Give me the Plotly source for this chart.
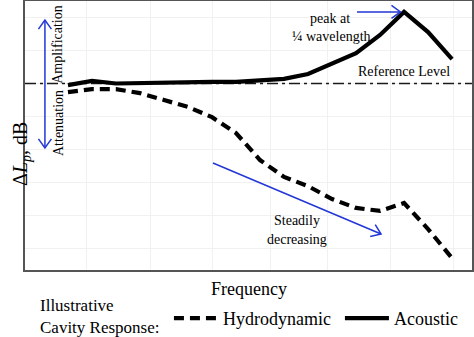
import plotly.graph_objects as go

# Frequency steps (arbitrary units) and level change relative to the reference, dB (arbitrary units)
freq = list(range(1, 18))
acoustic = [-0.05, 0.08, 0.00, 0.02, 0.03, 0.03, 0.05, 0.05, 0.08, 0.14, 0.29, 0.59,
            0.92, 1.47, 2.17, 1.56, 0.74]
hydrodynamic = [-0.26, -0.17, -0.17, -0.29, -0.50, -0.71, -1.02, -1.50, -2.32, -2.83,
                -3.11, -3.50, -3.77, -3.86, -3.62, -4.41, -5.29]
reference_level = 0.0

x_grid = [1.79, 4.42, 7.04, 9.42, 11.83, 14.42, 17.04]
y_grid = [-5, -4, -3, -2, -1, 0, 1, 2]

X_RANGE = [-0.79, 17.83]
Y_RANGE = [-5.65, 2.5]

# plot area size in px, used to draw arrow heads with a fixed pixel size
PLOT_W, PLOT_H = 447, 269
SX = PLOT_W / (X_RANGE[1] - X_RANGE[0])
SY = PLOT_H / (Y_RANGE[1] - Y_RANGE[0])

BLUE = "#2336d6"
FONT = "Liberation Serif"

fig = go.Figure()

fig.add_trace(go.Scatter(
    x=[X_RANGE[0], X_RANGE[1]], y=[reference_level, reference_level], mode="lines",
    line=dict(color="#1a1a1a", width=1.4, dash="11px,4px,3px,4px"),
    showlegend=False, hoverinfo="skip"))

fig.add_trace(go.Scatter(
    x=freq, y=hydrodynamic, mode="lines", name="Hydrodynamic",
    line=dict(color="black", width=4.2, dash="10px,6px")))

fig.add_trace(go.Scatter(
    x=freq, y=acoustic, mode="lines", name="Acoustic",
    line=dict(color="black", width=4.2)))


def arrow(x0, y0, x1, y1, both=False, head=9, half=6.5):
    """Line from (x0,y0) to (x1,y1) with open chevron head(s)."""
    shapes = [dict(type="line", xref="x", yref="y", x0=x0, y0=y0, x1=x1, y1=y1,
                   line=dict(color=BLUE, width=1.5))]
    ends = [(x0, y0, x1, y1)]
    if both:
        ends.append((x1, y1, x0, y0))
    for ax, ay, bx, by in ends:
        dxp = (bx - ax) * SX
        dyp = (by - ay) * SY
        n = (dxp ** 2 + dyp ** 2) ** 0.5
        ux, uy = dxp / n, dyp / n
        px, py = -uy, ux
        pts = []
        for s in (1, -1):
            hx = -ux * head + s * px * half
            hy = -uy * head + s * py * half
            pts.append((bx + hx / SX, by + hy / SY))
        path = (f"M{pts[0][0]},{pts[0][1]} L{bx},{by} L{pts[1][0]},{pts[1][1]}")
        shapes.append(dict(type="path", xref="x", yref="y", path=path,
                           line=dict(color=BLUE, width=1.5)))
    return shapes


shapes = []
shapes += arrow(0.04, 1.92, 0.04, -1.95, both=True)
shapes += arrow(13.04, 2.17, 14.85, 2.17)
shapes += arrow(7.04, -2.41, 14.04, -4.56)

annotations = [
    dict(x=0.58, y=1.2, text="Amplification", textangle=-90, font=dict(size=14)),
    dict(x=0.58, y=-1.2, text="Attenuation", textangle=-90, font=dict(size=14)),
    dict(x=11.92, y=1.98, text="peak at", font=dict(size=14)),
    dict(x=11.96, y=1.43, text="¼ wavelength", font=dict(size=14)),
    dict(x=15.0, y=0.35, text="Reference Level", font=dict(size=14)),
    dict(x=10.54, y=-4.14, text="Steadily", font=dict(size=14)),
    dict(x=10.54, y=-4.74, text="decreasing", font=dict(size=14)),
    dict(xref="paper", yref="paper", x=-0.04, y=0.43, textangle=-90,
         text="Δ<i>L</i><sub><i>p</i></sub>, dB", font=dict(size=20)),
    dict(xref="paper", yref="paper", x=0.5, y=-0.07, yanchor="middle",
         text="Frequency", font=dict(size=18)),
    dict(xref="paper", yref="paper", x=0.03, y=-0.172, xanchor="left",
         yanchor="middle", align="left",
         text="Illustrative<br>Cavity Response:", font=dict(size=17)),
]
for a in annotations:
    a.setdefault("xref", "x")
    a.setdefault("yref", "y")
    a["showarrow"] = False
    a["font"]["family"] = FONT
    a["font"]["color"] = "black"

fig.update_layout(
    width=474, height=337,
    margin=dict(l=25, r=2, t=1, b=67, autoexpand=False),
    paper_bgcolor="white", plot_bgcolor="white",
    font=dict(family=FONT, color="black", size=18),
    shapes=shapes, annotations=annotations,
    showlegend=True,
    legend=dict(orientation="h", x=0.322, y=-0.18, xanchor="left", yanchor="middle",
                font=dict(size=18), itemwidth=44, entrywidth=112,
                entrywidthmode="pixels", bgcolor="rgba(0,0,0,0)"),
    xaxis=dict(range=X_RANGE, tickvals=x_grid, showticklabels=False, ticks="",
               showgrid=True, gridcolor="#f1f1f1", gridwidth=1, zeroline=False,
               showline=True, mirror=True, linecolor="#555555", linewidth=2),
    yaxis=dict(range=Y_RANGE, tickvals=y_grid, showticklabels=False, ticks="",
               showgrid=True, gridcolor="#f1f1f1", gridwidth=1, zeroline=False,
               showline=True, mirror=True, linecolor="#555555", linewidth=2),
)

fig.write_html("out.html")
